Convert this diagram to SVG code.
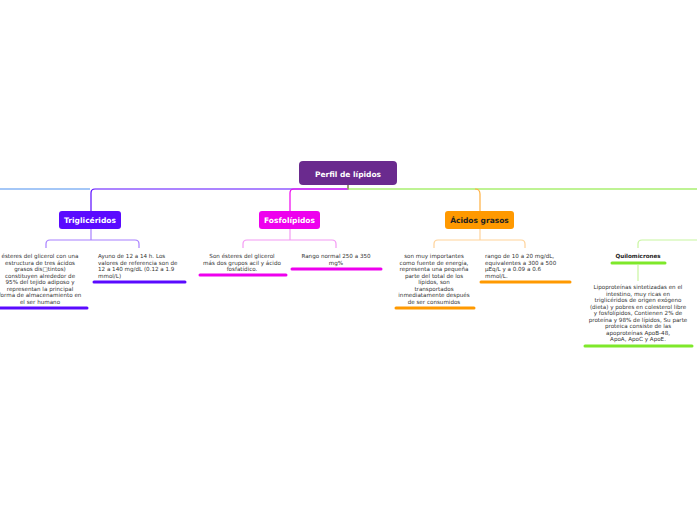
<svg xmlns="http://www.w3.org/2000/svg" width="697" height="520" viewBox="0 0 697 520">
<style>
.t{font-family:"DejaVu Sans",Verdana,sans-serif;font-size:5.6px;fill:#333;text-anchor:middle}
.tl{font-family:"DejaVu Sans",Verdana,sans-serif;font-size:5.6px;fill:#333}
.h{font-family:"DejaVu Sans",Verdana,sans-serif;font-size:7.5px;font-weight:bold;fill:#fff;text-anchor:middle}
.c{fill:none;stroke-width:1.2}
.u{stroke-width:3;stroke-linecap:round}
</style>
<rect width="697" height="520" fill="#fff"/>
<g id="connectors">
<path class="c" stroke="#4a8ff0" d="M0 189H90"/>
<path class="c" stroke="#5a0aff" d="M348 185V189H95Q91 189 91 193V211"/>
<path class="c" stroke="#ee00ee" d="M348 185V189H294Q290 189 290 193V211"/>
<path class="c" stroke="#7ee82a" d="M348 185V189H697"/>
<path class="c" stroke="#ffb040" d="M475 189Q480 189 480 194V211"/>
<path class="c" stroke="#a880ff" d="M91 229V240M46 248V244Q46 240 50 240H135Q139 240 139 244V248"/>
<path class="c" stroke="#f49af4" d="M290 229V240M243 248V244Q243 240 247 240H332Q336 240 336 244V248"/>
<path class="c" stroke="#ffd39a" d="M480 229V240M434 248V244Q434 240 438 240H521Q525 240 525 244V248"/>
<path class="c" stroke="#c8f5a0" d="M638 248V244Q638 240 642 240H697M638 265V281"/>
</g>
<g id="center"><rect x="299" y="161" width="98" height="24" rx="4" fill="#6a2a8e"/><text class="h" x="348" y="176.5" font-size="9">Perfil de lípidos</text></g>
<g id="trig"><rect x="59" y="211" width="62" height="18" rx="3" fill="#5a0aff"/><text class="h" x="90" y="222.5">Triglicéridos</text>
<text class="t" x="40" y="258"><tspan x="40">ésteres del glicerol con una</tspan><tspan x="40" dy="6.5">estructura de tres ácidos</tspan><tspan x="40" dy="6.5">grasos dis□tintos)</tspan><tspan x="40" dy="6.5">constituyen alrededor de</tspan><tspan x="40" dy="6.5">95% del tejido adiposo y</tspan><tspan x="40" dy="6.5">representan la principal</tspan><tspan x="40" dy="6.5">forma de almacenamiento en</tspan><tspan x="40" dy="6.5">el ser humano</tspan></text>
<line class="u" x1="0" y1="308" x2="87" y2="308" stroke="#5a0aff"/>
<text class="tl" x="98" y="258"><tspan x="98">Ayuno de 12 a 14 h. Los</tspan><tspan x="98" dy="6.5">valores de referencia son de</tspan><tspan x="98" dy="6.5">12 a 140 mg/dL (0.12 a 1.9</tspan><tspan x="98" dy="6.5">mmol/L)</tspan></text>
<line class="u" x1="94" y1="282" x2="185" y2="282" stroke="#5a0aff"/></g>
<g id="fosfo"><rect x="259" y="211" width="61" height="18" rx="3" fill="#ee00ee"/><text class="h" x="289.5" y="222.5">Fosfolípidos</text>
<text class="t" x="242" y="258"><tspan x="242">Son ésteres del glicerol</tspan><tspan x="242" dy="6.5">más dos grupos acil y ácido</tspan><tspan x="242" dy="6.5">fosfatídico.</tspan></text>
<line class="u" x1="200" y1="275" x2="286" y2="275" stroke="#ee00ee"/>
<text class="t" x="336" y="258"><tspan x="336">Rango normal 250 a 350</tspan><tspan x="336" dy="6.5">mg%</tspan></text>
<line class="u" x1="292" y1="269" x2="381" y2="269" stroke="#ee00ee"/></g>
<g id="acidos"><rect x="445" y="211" width="69" height="18" rx="3" fill="#ff9900"/><text class="h" x="479.5" y="222.5" fill="#222" style="fill:#222">Ácidos grasos</text>
<text class="t" x="434" y="258"><tspan x="434">son muy importantes</tspan><tspan x="434" dy="6.5">como fuente de energía,</tspan><tspan x="434" dy="6.5">representa una pequeña</tspan><tspan x="434" dy="6.5">parte del total de los</tspan><tspan x="434" dy="6.5">lípidos, son</tspan><tspan x="434" dy="6.5">transportados</tspan><tspan x="434" dy="6.5">inmediatamente después</tspan><tspan x="434" dy="6.5">de ser consumidos</tspan></text>
<line class="u" x1="396" y1="308" x2="474" y2="308" stroke="#ff9900"/>
<text class="tl" x="485" y="258"><tspan x="485">rango de 10 a 20 mg/dL,</tspan><tspan x="485" dy="6.5">equivalentes a 300 a 500</tspan><tspan x="485" dy="6.5">μEq/L y a 0.09 a 0.6</tspan><tspan x="485" dy="6.5">mmol/L.</tspan></text>
<line class="u" x1="481" y1="282" x2="570" y2="282" stroke="#ff9900"/></g>
<g id="quilo"><text class="t" x="638" y="258" font-weight="bold" style="font-weight:bold;fill:#222">Quilomicrones</text>
<line class="u" x1="612" y1="263" x2="665" y2="263" stroke="#7ee82a"/>
<text class="t" x="638" y="289"><tspan x="638">Lipoproteínas sintetizadas en el</tspan><tspan x="638" dy="6.5">intestino, muy ricas en</tspan><tspan x="638" dy="6.5">triglicéridos de origen exógeno</tspan><tspan x="638" dy="6.5">(dieta) y pobres en colesterol libre</tspan><tspan x="638" dy="6.5">y fosfolípidos, Contienen 2% de</tspan><tspan x="638" dy="6.5">proteína y 98% de lípidos, Su parte</tspan><tspan x="638" dy="6.5">proteica consiste de las</tspan><tspan x="638" dy="6.5">apoproteínas ApoB-48,</tspan><tspan x="638" dy="6.5">ApoA, ApoC y ApoE.</tspan></text>
<line class="u" x1="585" y1="346" x2="692" y2="346" stroke="#7ee82a"/></g>
</svg>
